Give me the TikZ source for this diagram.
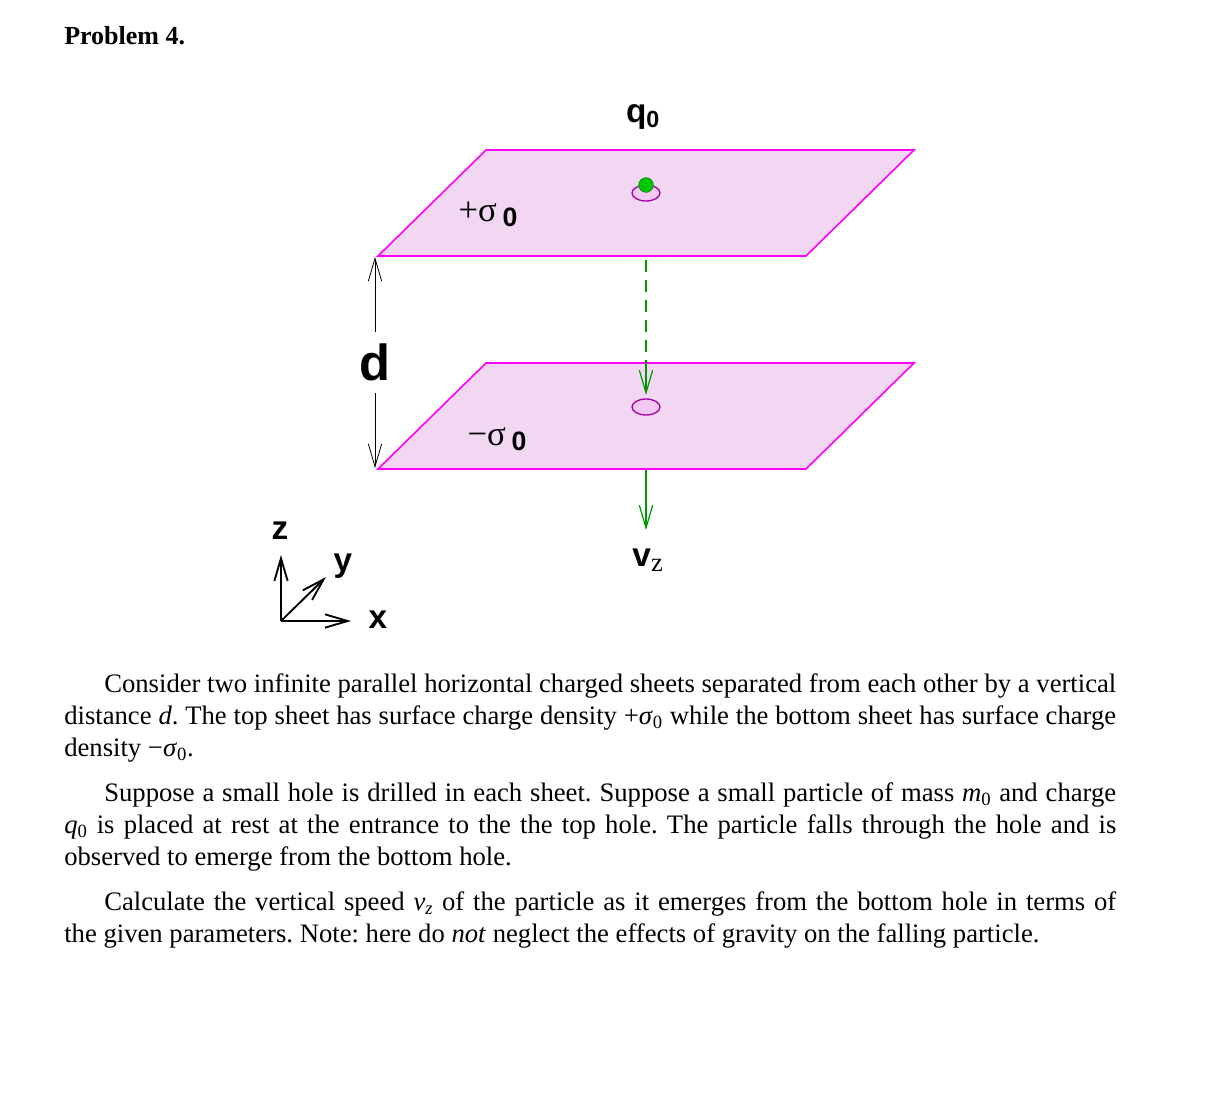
\documentclass[tikz,border=0pt]{standalone}
\usepackage{fontspec}
\setmainfont{Liberation Serif}
\setsansfont{Liberation Sans}
\usetikzlibrary{arrows.meta}
\begin{document}
\begin{tikzpicture}[x=0.75pt,y=-0.75pt,
  sheet/.style={draw={rgb,255:red,255;green,0;blue,255},fill={rgb,255:red,242;green,215;blue,242},line width=1.2pt},
  hole/.style={draw={rgb,255:red,170;green,0;blue,170},fill={rgb,255:red,242;green,200;blue,242},line width=1pt},
  barb/.style={-{Straight Barb[length=17pt,width=10pt]}},
  gline/.style={draw={rgb,255:red,0;green,150;blue,0},line width=0.9pt},
  lab/.style={font=\sffamily\bfseries\fontsize{25}{27}\selectfont,inner sep=0pt}]
\useasboundingbox (0,0) rectangle (1208,1093);
\node[anchor=west,font=\bfseries\fontsize{19.5}{22}\selectfont,inner sep=0pt] (title) at (64,36) {Problem 4.};
% sheets
\path[sheet] (486,150) -- (914,150) -- (806,256) -- (378,256) -- cycle;
\path[sheet] (486,363) -- (914,363) -- (806,469) -- (378,469) -- cycle;
\path[hole] (646,193) ellipse [x radius=14, y radius=8];
\path[hole] (646,407) ellipse [x radius=14, y radius=8];
\node[circle,draw={rgb,255:red,0;green,120;blue,0},fill={rgb,255:red,0;green,200;blue,0},minimum size=11pt,inner sep=0pt] (q) at (646,185) {};
\coordinate (t1) at (646,260); \coordinate (t2) at (646,395);
\coordinate (b1) at (646,470); \coordinate (b2) at (646,530);
\draw[gline,dashed,dash pattern=on 9pt off 6pt] (t1) -- (646,380);
\draw[gline,barb] (646,365) -- (t2);
\draw[gline,barb] (b1) -- (b2);
\node[lab] (q0) at (643,117) {q\textsubscript{0}};
\node[lab] (vz) at (648,560) {v\textsubscript{\normalfont\fontsize{20}{22}\selectfont z}};
\node[inner sep=0pt,font=\fontsize{26}{28}\selectfont] (sp) at (488,214) {+σ\,\textsf{\textbf{\fontsize{20}{22}\selectfont\raisebox{-0.35ex}{0}}}};
\node[inner sep=0pt,font=\fontsize{26}{28}\selectfont] (sm) at (497,439) {−σ\,\textsf{\textbf{\fontsize{20}{22}\selectfont\raisebox{-0.35ex}{0}}}};
% d
\node[lab,font=\sffamily\bfseries\fontsize{38}{40}\selectfont] (d) at (375,362) {d};
\coordinate (d1) at (375,257); \coordinate (d2) at (375,468);
\draw[line width=0.6pt,barb] (375,332) -- (d1);
\draw[line width=0.6pt,barb] (375,393) -- (d2);
% axes
\coordinate (o) at (281,621);
\coordinate (zt) at (281,555); \coordinate (xt) at (351,621); \coordinate (yt) at (326,577);
\draw[line width=1.4pt,barb] (o) -- (zt);
\draw[line width=1.4pt,barb] (o) -- (xt);
\draw[line width=1.4pt,barb] (o) -- (yt);
\node[lab] (zl) at (280,531) {z};
\node[lab] (yl) at (343,566) {y};
\node[lab] (xl) at (378,620) {x};
% text
\node[anchor=north west,inner sep=0pt,text width=789pt,align=justify] (txt) at (64,673) {\fontsize{20}{24}\selectfont\frenchspacing
\setlength{\parindent}{30pt}\setlength{\parskip}{10pt}\indent
Consider two infinite parallel horizontal charged sheets separated from each other by a vertical distance \textit{d}. The top sheet has surface charge density +\textit{σ}\textsubscript{0} while the bottom sheet has surface charge density −\textit{σ}\textsubscript{0}.\par
Suppose a small hole is drilled in each sheet. Suppose a small particle of mass \textit{m}\textsubscript{0} and charge\linebreak \textit{q}\textsubscript{0} is placed at rest at the entrance to the the top hole. The particle falls through the hole and is observed to emerge from the bottom hole.\par
Calculate the vertical speed \textit{v\textsubscript{z}} of the particle as it emerges from the bottom hole in terms of\linebreak the given parameters. Note: here do \textit{not} neglect the effects of gravity on the falling particle.\par};
\end{tikzpicture}
\end{document}
